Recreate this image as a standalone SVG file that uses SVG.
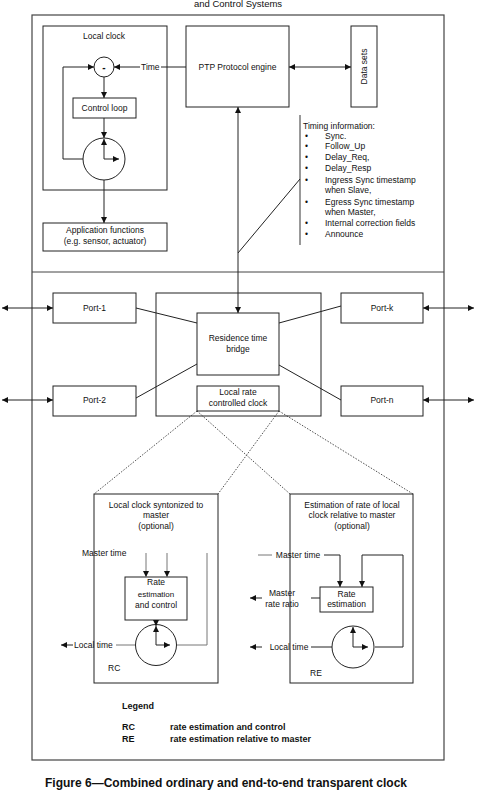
<svg xmlns="http://www.w3.org/2000/svg" width="498" height="811" viewBox="0 0 498 811">
<defs>
<marker id="ah" viewBox="0 0 10 10" refX="10" refY="5" markerWidth="7" markerHeight="6" markerUnits="userSpaceOnUse" orient="auto-start-reverse">
<path d="M0,0 L10,5 L0,10 z" style="fill:#111;stroke:none"/>
</marker>
</defs>
<style>
text{font-family:"Liberation Sans",Arial,sans-serif;font-size:8.5px;fill:#111}
.c{text-anchor:middle}
.b{font-weight:bold}
rect,circle{fill:#fff;stroke:#222;stroke-width:1}
rect.f{fill:none}
.box{fill:none;stroke:#444;stroke-width:1.2}
line,path{fill:none;stroke:#222;stroke-width:1}
.g{stroke:#777}
.dot{stroke:#222;stroke-width:0.8;stroke-dasharray:1.5,1.5}
</style>
<rect width="498" height="811" style="fill:#fff;stroke:none"/>
<text x="238" y="6.5" class="c" style="font-size:9.5px">and Control Systems</text>

<g id="outer">
<rect class="box" x="32" y="15" width="412" height="745"/>
<line x1="32" y1="272" x2="444" y2="272" style="stroke:#444"/>
</g>

<g id="local-clock">
<rect class="f" x="43" y="26" width="124" height="164"/>
<text x="104" y="39" class="c">Local clock</text>
<circle cx="104" cy="67" r="10"/>
<text x="104" y="71" class="c b" style="font-size:10px">-</text>
<text x="141" y="70">Time</text>
</g>
<g id="control-loop">
<rect x="73" y="98" width="63" height="20"/>
<text x="104.5" y="111" class="c">Control loop</text>
</g>
<g id="clock-main">
<circle cx="104" cy="159" r="21"/>
<line x1="104" y1="159" x2="104" y2="139" marker-end="url(#ah)"/>
<line x1="104" y1="159" x2="119" y2="159" marker-end="url(#ah)"/>
</g>
<g id="app-functions">
<rect x="43" y="223" width="124" height="28"/>
<text x="105" y="233" class="c">Application functions</text>
<text x="105" y="244" class="c">(e.g. sensor, actuator)</text>
</g>
<g id="ptp-engine">
<rect x="186" y="26" width="103" height="81"/>
<text x="237.5" y="70" class="c">PTP Protocol engine</text>
</g>
<g id="data-sets">
<rect x="351" y="26" width="26" height="81"/>
<text transform="translate(367,66.5) rotate(-90)" class="c">Data sets</text>
</g>
<g id="timing-info">
<line x1="300" y1="115" x2="300" y2="245" style="stroke:#555;stroke-width:1.2"/>
<text x="303" y="129">Timing information:</text>
<text x="305" y="138.5">•</text><text x="325" y="138.5">Sync.</text>
<text x="305" y="149">•</text><text x="325" y="149">Follow_Up</text>
<text x="305" y="160">•</text><text x="325" y="160">Delay_Req,</text>
<text x="305" y="171">•</text><text x="325" y="171">Delay_Resp</text>
<text x="305" y="183">•</text><text x="325" y="183">Ingress Sync timestamp</text>
<text x="325" y="193">when Slave,</text>
<text x="305" y="205">•</text><text x="325" y="205">Egress Sync timestamp</text>
<text x="325" y="215">when Master,</text>
<text x="305" y="226">•</text><text x="325" y="226">Internal correction fields</text>
<text x="305" y="237">•</text><text x="325" y="237">Announce</text>
</g>

<g id="port-1"><rect x="53" y="293" width="83" height="30"/><text x="94.5" y="311" class="c">Port-1</text></g>
<g id="port-2"><rect x="53" y="386" width="83" height="30"/><text x="94.5" y="403" class="c">Port-2</text></g>
<g id="port-k"><rect x="341" y="293" width="82" height="30"/><text x="382" y="311" class="c">Port-k</text></g>
<g id="port-n"><rect x="341" y="386" width="82" height="30"/><text x="382" y="403" class="c">Port-n</text></g>
<g id="bridge-frame"><rect class="f" x="156" y="293" width="165" height="123"/></g>
<g id="residence">
<rect x="197" y="313" width="82" height="62"/>
<text x="238" y="341" class="c">Residence time</text>
<text x="238" y="352" class="c">bridge</text>
</g>
<g id="local-rate-clock">
<rect x="197" y="386" width="82" height="25"/>
<text x="238" y="395" class="c">Local rate</text>
<text x="238" y="406" class="c">controlled clock</text>
</g>

<g id="rc-box">
<rect class="f" x="94" y="494" width="124" height="189"/>
<text x="156" y="508" class="c">Local clock syntonized to</text>
<text x="156" y="518" class="c">master</text>
<text x="156" y="529" class="c">(optional)</text>
<text x="82" y="556">Master time</text>
<text x="74" y="648">Local time</text>
<text x="108" y="671">RC</text>
</g>
<g id="rc-rate">
<rect x="125" y="577" width="62" height="43"/>
<text x="156" y="585" class="c">Rate</text>
<text x="156" y="597" class="c" style="font-size:8px">estimation</text>
<text x="156" y="608" class="c">and control</text>
</g>
<g id="rc-clock">
<circle cx="156" cy="645" r="20.5"/>
<line x1="156" y1="645" x2="156" y2="626" marker-end="url(#ah)"/>
<line x1="156" y1="645" x2="170" y2="645" marker-end="url(#ah)"/>
</g>

<g id="re-box">
<rect class="f" x="290" y="494" width="123" height="189"/>
<text x="352" y="508" class="c">Estimation of rate of local</text>
<text x="352" y="518" class="c">clock relative to master</text>
<text x="352" y="529" class="c">(optional)</text>
<text x="298" y="558" class="c">Master time</text>
<text x="282" y="596" class="c">Master</text>
<text x="282" y="607" class="c">rate ratio</text>
<text x="289" y="650" class="c">Local time</text>
<text x="310" y="676">RE</text>
</g>
<g id="re-rate">
<rect x="320" y="587" width="53" height="25"/>
<text x="346.5" y="597" class="c">Rate</text>
<text x="346.5" y="607" class="c">estimation</text>
</g>
<g id="re-clock">
<circle cx="353" cy="647" r="21"/>
<line x1="353" y1="647" x2="353" y2="627" marker-end="url(#ah)"/>
<line x1="353" y1="647" x2="368" y2="647" marker-end="url(#ah)"/>
</g>

<g id="connectors">
<line x1="186" y1="67" x2="161" y2="67"/>
<line x1="140" y1="67" x2="114" y2="67" marker-end="url(#ah)"/>
<path d="M83,159 H63 V67 H94" marker-end="url(#ah)"/>
<line x1="104" y1="77" x2="104" y2="98" marker-end="url(#ah)"/>
<line x1="104" y1="118" x2="104" y2="138" marker-end="url(#ah)"/>
<line x1="104" y1="180" x2="104" y2="223" marker-end="url(#ah)"/>
<line x1="289" y1="67" x2="351" y2="67" marker-start="url(#ah)" marker-end="url(#ah)"/>
<line x1="238" y1="107" x2="238" y2="313" marker-start="url(#ah)" marker-end="url(#ah)"/>
<line x1="300" y1="179" x2="238" y2="253"/>
<line x1="2" y1="308" x2="53" y2="308" marker-start="url(#ah)" marker-end="url(#ah)"/>
<line x1="2" y1="400" x2="53" y2="400" marker-start="url(#ah)" marker-end="url(#ah)"/>
<line x1="423" y1="308" x2="474" y2="308" marker-start="url(#ah)" marker-end="url(#ah)"/>
<line x1="423" y1="400" x2="474" y2="400" marker-start="url(#ah)" marker-end="url(#ah)"/>
<line x1="136" y1="308" x2="197" y2="323"/>
<line x1="136" y1="398" x2="197" y2="364"/>
<line x1="341" y1="306" x2="279" y2="323"/>
<line x1="341" y1="400" x2="279" y2="365"/>
<line class="dot" x1="197" y1="411" x2="94" y2="494"/>
<line class="dot" x1="197" y1="411" x2="290" y2="494"/>
<line class="dot" x1="279" y1="411" x2="218" y2="494"/>
<line class="dot" x1="279" y1="411" x2="413" y2="494"/>
<line class="g" x1="146" y1="553" x2="146" y2="577" marker-end="url(#ah)"/>
<line class="g" x1="167" y1="553" x2="167" y2="577" marker-end="url(#ah)"/>
<line x1="156" y1="620" x2="156" y2="626" marker-end="url(#ah)"/>
<path class="g" d="M177,645 H207 V553"/>
<line class="g" x1="135" y1="645" x2="116" y2="645"/>
<line x1="73" y1="645" x2="61" y2="645" marker-end="url(#ah)"/>
<path class="g" d="M258,555 H272"/>
<path d="M324,555 H340 V587" marker-end="url(#ah)"/>
<path d="M375,647 H403 V555 H362 V587" marker-end="url(#ah)"/>
<line x1="320" y1="598" x2="311" y2="598"/>
<line x1="262" y1="598" x2="250" y2="598" marker-end="url(#ah)"/>
<line x1="332" y1="647" x2="311" y2="647"/>
<line x1="262" y1="647" x2="250" y2="647" marker-end="url(#ah)"/>
</g>

<g id="legend">
<text x="122" y="709" class="b" style="font-size:9px">Legend</text>
<text x="122" y="730" class="b" style="font-size:9px">RC</text>
<text x="170" y="730" class="b" style="font-size:9px">rate estimation and control</text>
<text x="122" y="742" class="b" style="font-size:9px">RE</text>
<text x="170" y="742" class="b" style="font-size:9px">rate estimation relative to master</text>
</g>
<text x="45" y="787" class="b" style="font-size:12px">Figure 6—Combined ordinary and end-to-end transparent clock</text>
</svg>
